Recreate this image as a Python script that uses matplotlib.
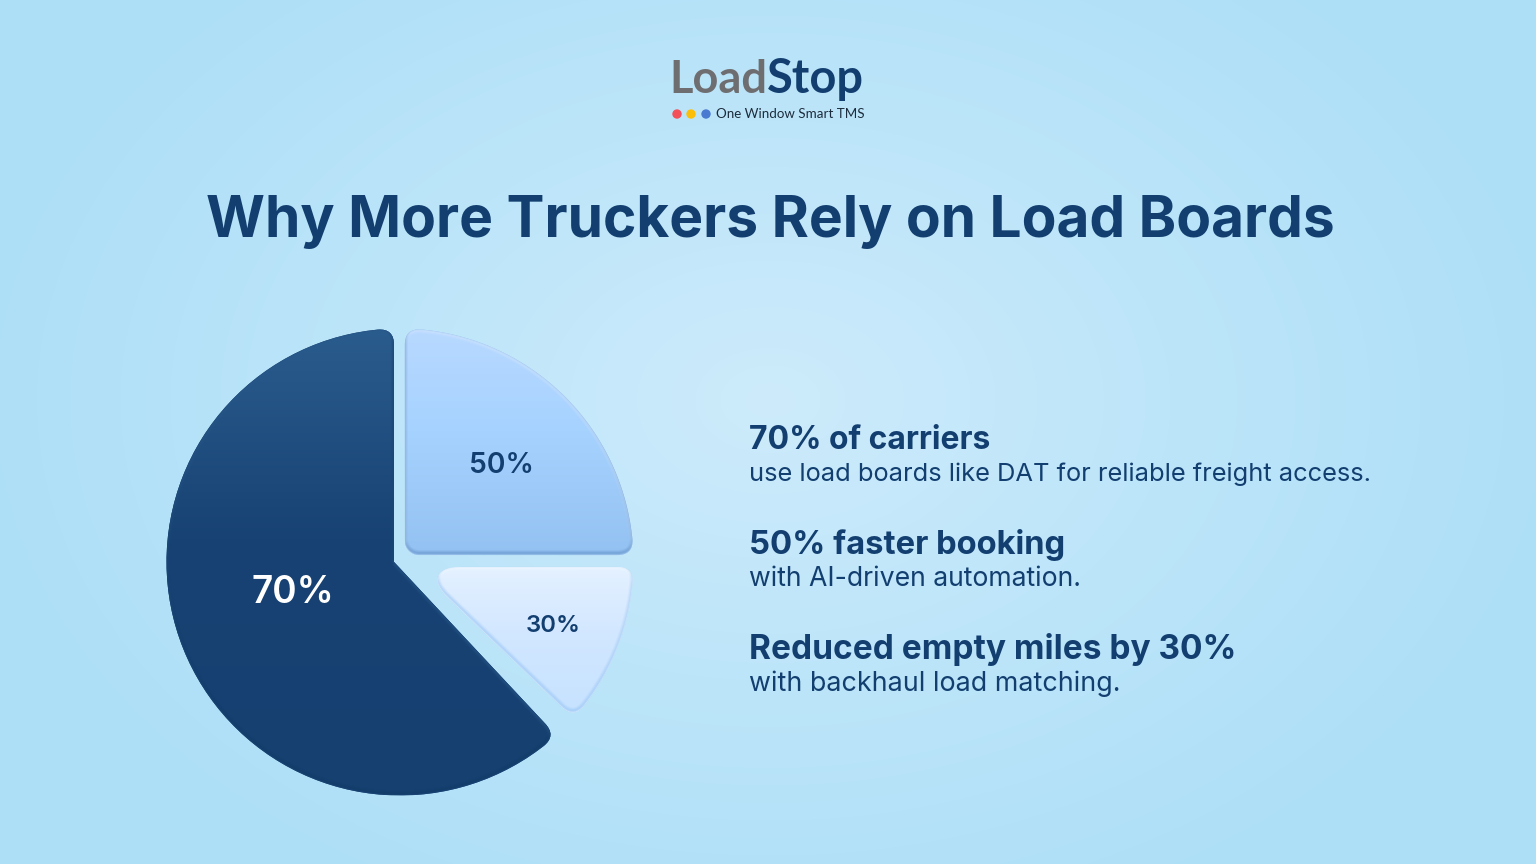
import numpy as np
import matplotlib
matplotlib.use('Agg')
import matplotlib.pyplot as plt
from matplotlib.path import Path
from matplotlib.patches import PathPatch, Circle
from matplotlib.transforms import Affine2D

W, H = 1536, 864

# chart data (shares are the drawn arcs, labels are what the slices say)
slice_shares = [62.5, 12.5, 25.0]
slice_labels = ['70%', '30%', '50%']
headings = ['70% of carriers', '50% faster booking', 'Reduced empty miles by 30%']
details = ['use load boards like DAT for reliable freight access.',
           'with AI-driven automation.',
           'with backhaul load matching.']
title = 'Why More Truckers Rely on Load Boards'

NAVY = '#123f70'
HEAD_FONT = 'Inter'


def py(y):
    # picture pixels run downwards, the axes run upwards
    return H - y


def fit_text(fig, t, width):
    r = fig.canvas.get_renderer()
    t.set_fontsize(t.get_fontsize() * width / t.get_window_extent(r).width)


def unit(v):
    return v / np.hypot(v[0], v[1])


def rounded_slice(c, r, vertex, t1, t2, rad, rad_v):
    # slice outline with a cut back vertex and soft corners
    c = np.array(c, float)
    v = np.array(vertex, float)
    a1, a2 = np.radians(t1), np.radians(t2)
    p1 = c + r * np.array([np.cos(a1), np.sin(a1)])
    p2 = c + r * np.array([np.cos(a2), np.sin(a2)])
    u1 = unit(p1 - v)
    u2 = unit(p2 - v)
    dt = rad / r
    verts = [v + rad_v * u1, p1 - rad * u1, p1]
    codes = [Path.MOVETO, Path.LINETO, Path.CURVE3]
    arc = np.linspace(a1 + dt, a2 - dt, 80)
    for k, a in enumerate(arc):
        verts.append(c + r * np.array([np.cos(a), np.sin(a)]))
        codes.append(Path.CURVE3 if k == 0 else Path.LINETO)
    verts += [p2, p2 - rad * u2, v + rad_v * u2,
              v + 0.45 * rad_v * u2, v + 0.45 * rad_v * u1, v + rad_v * u1]
    codes += [Path.CURVE3, Path.CURVE3, Path.LINETO, Path.CURVE4, Path.CURVE4, Path.CURVE4]
    return Path(verts, codes)


fig = plt.figure(figsize=(W / 100, H / 100), dpi=100)
ax = fig.add_axes([0, 0, 1, 1])

# BACKGROUND
yy, xx = np.mgrid[0:H, 0:W]
dist = np.sqrt(((xx - 770) / 800) ** 2 + ((yy - 400) / 560) ** 2)
dist = np.clip(dist, 0, 1)[..., None]
inner = np.array(matplotlib.colors.to_rgb('#cdebfb'))
outer = np.array(matplotlib.colors.to_rgb('#addff7'))
ax.imshow(inner + (outer - inner) * dist, extent=(0, W, 0, H), origin='upper', aspect='auto', zorder=0)

# PIE
pie_c = (400, py(562))
pie_r = 233.5
wedges, _ = ax.pie(slice_shares, startangle=90, counterclock=True, center=pie_c, radius=pie_r, frame=True)
vertices = [(394, py(562)), (416, py(567)), (405, py(555))]
arc_from = [91.5, 318, 1.7]
arc_to = [312, 358.8, 88.8]
corner = [16, 16, 16]
corner_v = [0, 44, 14]
tops = ['#2b5c8e', '#e4f1ff', '#b8d9ff']
mids = ['#174273', '#d2e7ff', '#a6d2ff']
bottoms = ['#164070', '#c6e2ff', '#93c1f1']
hi_cols = ['#2b5c8e', '#f2f9ff', '#d4e8ff']
lo_cols = ['#123a66', '#92c2f5', '#5f8fc8']
spans = [(py(328), py(795)), (py(567), py(714)), (py(328), py(556))]

for i, w in enumerate(wedges):
    w.set_facecolor(mids[i])
    w.set_edgecolor('none')
    w.set_zorder(2)
    shape = rounded_slice(pie_c, pie_r, vertices[i], arc_from[i], arc_to[i], corner[i], corner_v[i])
    clip = PathPatch(shape, facecolor='none', edgecolor='none', transform=ax.transData)
    ax.add_patch(clip)
    # pie turns clipping off for its wedges
    w.set_clip_on(True)
    w.set_clip_path(clip)
    # vertical gradient inside the slice
    cols = [matplotlib.colors.to_rgb(c) for c in (tops[i], mids[i], bottoms[i])]
    pos = np.linspace(0, 1, 200)
    grad = np.stack([np.interp(pos, [0, 0.45, 1], [c[k] for c in cols]) for k in range(3)], axis=1)
    im = ax.imshow(grad[:, None, :], extent=(0, W, spans[i][1], spans[i][0]), origin='upper', aspect='auto', zorder=3)
    im.set_clip_path(clip)
    # soft bevel, a highlight from above and a shade from below
    for lw, al in [(6, 0.12), (4, 0.2), (2, 0.3)]:
        hi = PathPatch(shape, facecolor='none', edgecolor=hi_cols[i], lw=lw * 0.72, alpha=al, zorder=4,
                       transform=Affine2D().translate(0, -1) + ax.transData)
        ax.add_patch(hi)
        hi.set_clip_path(clip)
        lo = PathPatch(shape, facecolor='none', edgecolor=lo_cols[i], lw=lw * 0.72, alpha=al, zorder=4,
                       transform=Affine2D().translate(0, 2) + ax.transData)
        ax.add_patch(lo)
        lo.set_clip_path(clip)

ax.set_xlim(0, W)
ax.set_ylim(0, H)
ax.set_axis_off()

# PIE LABELS
label_pos = [(293, 603), (553, 632), (501, 473)]
label_cols = ['white', NAVY, NAVY]
label_w = [83, 55, 65]
for s, p, c, lw in zip(slice_labels, label_pos, label_cols, label_w):
    t = ax.text(p[0], py(p[1]), s, color=c, ha='center', va='baseline', fontsize=26, fontfamily=HEAD_FONT, fontweight='semibold', zorder=6)
    fit_text(fig, t, lw)

# TITLE
t = ax.text(770, py(237), title, color=NAVY, ha='center', va='baseline', fontsize=40, fontfamily=HEAD_FONT, fontweight='bold', zorder=6)
fit_text(fig, t, 1130)

# RIGHT HAND TEXT
head_y = [449, 554, 659]
head_w = [242, 317, 488]
det_y = [481, 586, 691]
det_w = [622, 332, 369]
for i in range(3):
    t = ax.text(749, py(head_y[i]), headings[i], color=NAVY, ha='left', va='baseline', fontsize=24, fontfamily=HEAD_FONT, fontweight='bold', zorder=6)
    fit_text(fig, t, head_w[i])
    t = ax.text(749, py(det_y[i]), details[i], color=NAVY, ha='left', va='baseline', fontsize=19, fontfamily=HEAD_FONT, zorder=6)
    fit_text(fig, t, det_w[i])

# LOGO
t = ax.text(767, py(93), 'Load', color='#6e6e70', ha='right', va='baseline', fontsize=32, fontfamily='Lato', fontweight='bold', zorder=6)
fit_text(fig, t, 98)
t = ax.text(767, py(93), 'Stop', color='#123f70', ha='left', va='baseline', fontsize=32, fontfamily='Lato', fontweight='bold', zorder=6)
fit_text(fig, t, 97)
for x, c in zip([677, 691, 706], ['#f4505a', '#fbbf0a', '#4a7bd0']):
    ax.add_patch(Circle((x, py(114)), 4.7, facecolor=c, edgecolor='none', zorder=6))
t = ax.text(716, py(118), 'One Window Smart TMS', color='#1c2c3c', ha='left', va='baseline', fontsize=10, fontfamily='Lato', zorder=6)
fit_text(fig, t, 148)

fig.savefig('out.png', dpi=100)
